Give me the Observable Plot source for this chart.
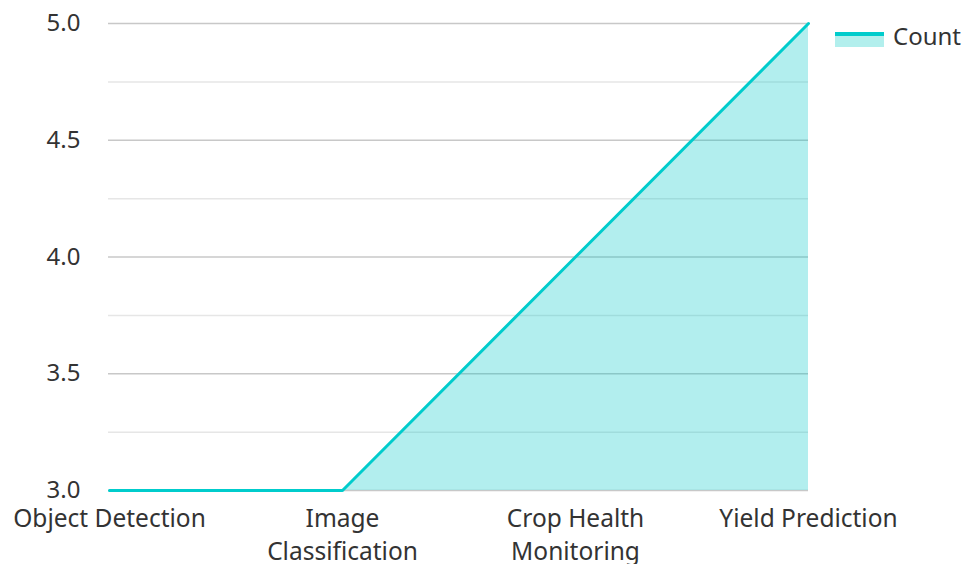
<!DOCTYPE html>
<html>
<head>
<meta charset="utf-8">
<script src="https://cdn.jsdelivr.net/npm/d3@7"></script>
<script src="https://cdn.jsdelivr.net/npm/@observablehq/plot@0.6"></script>
<style>
  html, body { margin: 0; padding: 0; background: #fff; }
  #wrap { position: relative; width: 966px; height: 564px; font-family: "Noto Sans", sans-serif; }
  #legend .sw { position: absolute; left: 835px; top: 32px; width: 49px; height: 15px; background: #b2efed; border-top: 4px solid #00cccc; box-sizing: border-box; }
  #legend .lt { position: absolute; left: 893px; top: 23px; font-size: 24px; line-height: 26px; color: #333; }
</style>
</head>
<body>
<div id="wrap"><div id="legend"><div class="sw"></div><span class="lt">Count</span></div></div>
<script>
const categories = ["Object Detection", "Image Classification", "Crop Health Monitoring", "Yield Prediction"];
const tickLabels = ["Object Detection", "Image\nClassification", "Crop Health\nMonitoring", "Yield Prediction"];
const counts = [3, 3, 4, 5];
const majorTicks = [3, 3.5, 4, 4.5, 5];
const minorTicks = [3.25, 3.75, 4.25, 4.75];

const data = categories.map((c, i) => ({category: c, count: counts[i]}));
const labelOf = new Map(categories.map((c, i) => [c, tickLabels[i]]));

const chart = Plot.plot({
  width: 966,
  height: 564,
  marginLeft: 108,
  marginRight: 158,
  marginTop: 23,
  marginBottom: 74,
  style: {fontFamily: "Noto Sans", fontSize: "24px", color: "#333", background: "transparent", overflow: "visible"},
  x: {type: "point", domain: categories, padding: 0, label: null},
  y: {domain: [3, 5], label: null},
  marks: [
    Plot.ruleY(minorTicks, {stroke: "#e6e6e6", strokeWidth: 1.5}),
    Plot.ruleY(majorTicks, {stroke: "#c8c8c8", strokeWidth: 1.5}),
    Plot.areaY(data, {x: "category", y1: 3, y2: "count", fill: "#00c8c8", fillOpacity: 0.3, curve: "linear"}),
    Plot.lineY(data, {x: "category", y: "count", stroke: "#00cccc", strokeWidth: 3}),
    Plot.axisY({ticks: majorTicks, tickSize: 0, tickPadding: 28, tickFormat: d => d.toFixed(1), fontSize: 24, fill: "#333", label: null}),
    Plot.axisX({tickSize: 0, tickPadding: 13, tickFormat: d => labelOf.get(d), fontSize: 24.5, fill: "#333", lineHeight: 1.34, label: null})
  ]
});
document.getElementById("wrap").prepend(chart);
chart.style.position = "absolute";
chart.style.left = "0";
chart.style.top = "0";
</script>
</body>
</html>
